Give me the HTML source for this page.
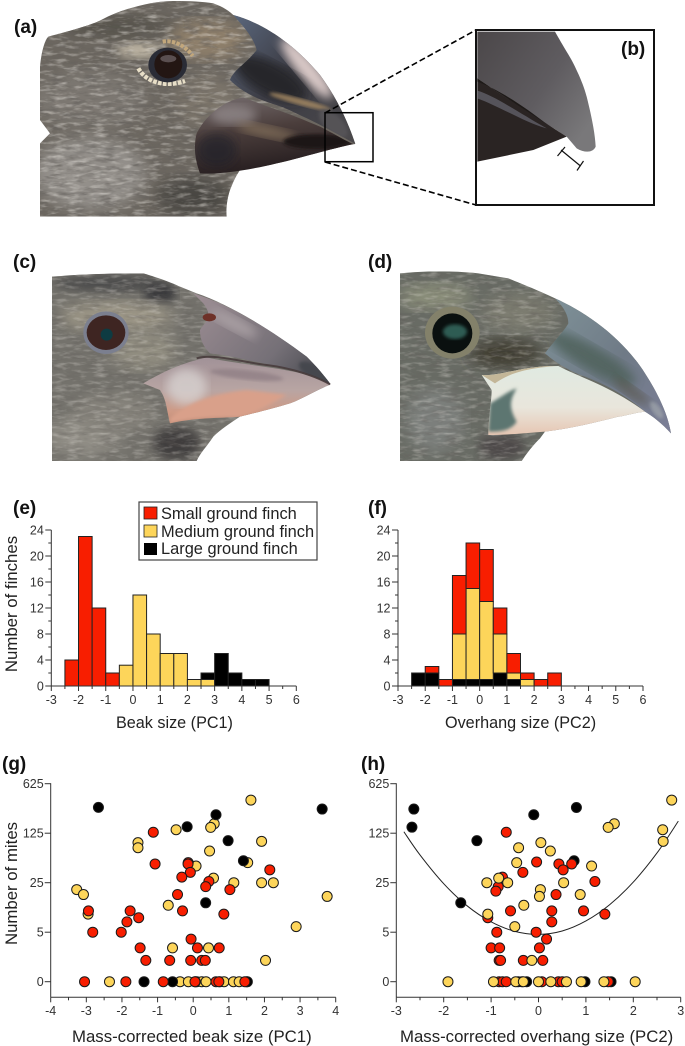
<!DOCTYPE html>
<html lang="en">
<head>
<meta charset="utf-8">
<title>Ground finch beak overhang and mite load</title>
<style>
html,body{margin:0;padding:0;background:#fff;}
body{width:685px;height:1046px;overflow:hidden;}
svg{display:block;}
text{font-family:"Liberation Sans",sans-serif;}
.panel{font-weight:bold;font-size:19px;fill:#111;}
.tick{font-size:12.5px;fill:#333;}
.title{font-size:16.8px;fill:#222;}
.title-hist{font-size:16.2px;fill:#222;}
.leg{font-size:16.4px;fill:#222;}
</style>
</head>
<body>
<svg id="figure" xmlns="http://www.w3.org/2000/svg" width="685" height="1046" viewBox="0 0 685 1046">
<defs>
  <filter id="dark-streaks" x="0" y="0" width="1" height="1">
    <feTurbulence type="fractalNoise" baseFrequency=".02 .08" numOctaves="3" seed="4"/>
    <feColorMatrix type="matrix" values="0 0 0 0 .13  0 0 0 0 .12  0 0 0 0 .11  2.4 0 0 0 -1.1"/>
  </filter>
  <filter id="light-streaks" x="0" y="0" width="1" height="1">
    <feTurbulence type="fractalNoise" baseFrequency=".025 .09" numOctaves="3" seed="11"/>
    <feColorMatrix type="matrix" values="0 0 0 0 .86  0 0 0 0 .83  0 0 0 0 .78  2.4 0 0 0 -1.15"/>
  </filter>
  <filter id="blur-large"><feGaussianBlur stdDeviation="22"/></filter>
  <filter id="blur-mid"><feGaussianBlur stdDeviation="14"/></filter>
  <filter id="blur-small"><feGaussianBlur stdDeviation="5"/></filter>

  <clipPath id="clip-a"><path d="M120 200 C125 150 135 120 145 110 C200 95 260 80 300 62 C340 40 370 30 400 22 C450 8 490 3 520 3 C570 3 610 5 640 10 C670 20 690 35 700 45 C790 70 880 130 960 225 C1015 300 1045 370 1066 432 L1040 436 C960 455 880 480 830 490 C790 500 750 505 720 510 C700 540 695 560 690 570 C680 600 678 630 680 650 L120 650 L120 430 L150 400 L120 360Z"/></clipPath>
  <clipPath id="clip-a-upper"><path d="M700 45 C790 70 880 130 960 225 C1015 300 1045 370 1066 432 C1010 400 960 372 850 322 C800 305 740 290 690 240 C700 210 740 190 770 150 C760 110 730 80 700 45Z"/></clipPath>
  <clipPath id="clip-a-lower"><path d="M590 400 C620 340 680 300 730 292 C800 320 870 340 960 380 C1000 400 1040 425 1060 432 C960 455 880 480 830 490 C750 510 650 525 600 520 C585 480 580 440 590 400Z"/></clipPath>
  <clipPath id="clip-c"><path d="M156 110 C220 105 300 100 430 100 C480 115 520 130 540 140 L590 160 C680 190 800 260 920 350 C950 380 975 410 992 433 C950 450 900 480 870 490 C820 505 760 520 720 530 C690 550 660 570 640 590 C620 620 600 640 590 663 L156 663Z"/></clipPath>
  <clipPath id="clip-c-upper"><path d="M580 160 C680 190 800 260 920 350 C950 380 975 410 992 433 C950 410 900 390 800 372 C740 360 680 345 630 340 C610 320 600 300 600 270 C620 240 640 230 610 190Z"/></clipPath>
  <clipPath id="clip-c-lower"><path d="M430 430 C480 400 540 370 620 352 C700 370 800 378 880 395 C930 405 970 425 992 433 C950 450 900 480 870 490 C820 505 760 520 720 530 C680 535 600 530 510 550 C500 510 500 480 480 450Z"/></clipPath>
  <clipPath id="clip-d"><path d="M165 100 C220 95 300 90 400 100 L490 115 C540 135 600 160 630 175 C720 215 830 290 900 400 C945 470 970 530 978 580 C950 550 925 530 900 515 C860 520 830 530 820 530 C750 548 680 565 600 575 L585 595 C560 620 545 640 530 663 L165 663Z"/></clipPath>
  <clipPath id="clip-d-upper"><path d="M630 175 C720 215 830 290 900 400 C945 470 970 530 978 580 C950 550 925 530 900 515 C860 480 800 440 720 410 C680 395 640 375 600 340 C630 300 660 270 670 250 C670 220 650 195 630 175Z"/></clipPath>
  <clipPath id="clip-d-lower"><path d="M410 405 C460 410 540 375 640 378 C700 410 800 440 900 515 C860 520 830 530 820 530 C750 548 680 565 600 575 C540 580 480 585 430 585 C430 540 440 480 440 450Z"/></clipPath>

  <linearGradient id="a-upper-beak" x1="0" y1="0" x2="1" y2="1">
    <stop offset="0" stop-color="#5d6b82"/><stop offset=".45" stop-color="#3c3c44"/><stop offset="1" stop-color="#4c4a4c"/>
  </linearGradient>
  <linearGradient id="a-lower-beak" x1="0" y1="0" x2=".3" y2="1">
    <stop offset="0" stop-color="#7c7476"/><stop offset=".5" stop-color="#4b3e3c"/><stop offset="1" stop-color="#241c1e"/>
  </linearGradient>
  <linearGradient id="c-upper-beak" x1="0" y1="0" x2="1" y2=".6">
    <stop offset="0" stop-color="#a09096"/><stop offset=".7" stop-color="#757077"/><stop offset="1" stop-color="#4f4f55"/>
  </linearGradient>
  <linearGradient id="c-lower-beak" x1="0" y1="0" x2="0" y2="1">
    <stop offset="0" stop-color="#9e8f96"/><stop offset=".5" stop-color="#b8a5a3"/><stop offset=".8" stop-color="#cf9a85"/><stop offset="1" stop-color="#b98672"/>
  </linearGradient>
  <linearGradient id="d-upper-beak" x1="0" y1=".2" x2=".9" y2="1">
    <stop offset="0" stop-color="#7d8f96"/><stop offset=".5" stop-color="#6f7a86"/><stop offset="1" stop-color="#7b7e96"/>
  </linearGradient>
  <linearGradient id="d-lower-beak" x1="0" y1="0" x2="0" y2="1">
    <stop offset="0" stop-color="#dfeae2"/><stop offset=".6" stop-color="#e9e6dc"/><stop offset="1" stop-color="#e6c4b0"/>
  </linearGradient>
  <linearGradient id="inset-beak" x1="0" y1="0" x2="1" y2=".7">
    <stop offset="0" stop-color="#4b4749"/><stop offset=".6" stop-color="#5f5c60"/><stop offset="1" stop-color="#79787a"/>
  </linearGradient>
  <clipPath id="clip-inset"><rect x="476" y="30" width="178" height="175"/></clipPath>
</defs>

<rect width="685" height="1046" fill="#fff"/>

<!-- (a) -->
<g transform="scale(.33333)">
  <g clip-path="url(#clip-a)">
    <rect x="100" y="0" width="1000" height="660" fill="#6c6760"/>
    <ellipse cx="270" cy="300" rx="170" ry="90" fill="#7b7771" filter="url(#blur-large)"/>
    <ellipse cx="270" cy="520" rx="170" ry="110" fill="#938f8a" filter="url(#blur-large)"/>
    <ellipse cx="620" cy="120" rx="120" ry="60" fill="#8e7f6b" filter="url(#blur-large)"/>
    <ellipse cx="350" cy="80" rx="170" ry="35" fill="#57524c" filter="url(#blur-large)"/>
    <ellipse cx="620" cy="300" rx="90" ry="80" fill="#7b746b" filter="url(#blur-large)"/>
    <ellipse cx="580" cy="590" rx="110" ry="60" fill="#4a4642" filter="url(#blur-large)"/>
    <ellipse cx="420" cy="150" rx="70" ry="25" fill="#bcb3a2" filter="url(#blur-mid)"/>
    <rect x="100" y="0" width="800" height="660" filter="url(#dark-streaks)" opacity=".75"/>
    <rect x="100" y="0" width="800" height="660" filter="url(#light-streaks)" opacity=".5"/>
  </g>
  <g clip-path="url(#clip-a-upper)">
    <rect x="680" y="30" width="400" height="420" fill="url(#a-upper-beak)"/>
    <ellipse cx="920" cy="205" rx="115" ry="30" transform="rotate(50 920 205)" fill="#d8c8c6" filter="url(#blur-mid)"/>
    <ellipse cx="810" cy="235" rx="120" ry="48" transform="rotate(28 810 235)" fill="#26262c" filter="url(#blur-mid)"/>
    <ellipse cx="900" cy="305" rx="95" ry="10" transform="rotate(15 900 305)" fill="#a98c65" opacity=".8" filter="url(#blur-small)"/>
    <ellipse cx="1000" cy="370" rx="55" ry="26" transform="rotate(45 1000 370)" fill="#555257" filter="url(#blur-small)"/>
  </g>
  <g clip-path="url(#clip-a-lower)">
    <rect x="570" y="280" width="500" height="250" fill="url(#a-lower-beak)"/>
    <ellipse cx="700" cy="345" rx="70" ry="30" fill="#a19a9b" opacity=".6" filter="url(#blur-mid)"/>
    <ellipse cx="800" cy="395" rx="90" ry="18" transform="rotate(12 800 395)" fill="#9a8468" opacity=".6" filter="url(#blur-mid)"/>
    <ellipse cx="650" cy="450" rx="60" ry="50" fill="#22222a" opacity=".7" filter="url(#blur-mid)"/>
    <ellipse cx="950" cy="425" rx="100" ry="22" fill="#1d1714" filter="url(#blur-small)"/>
  </g>
  <path d="M415 205 C440 250 500 262 555 243" fill="none" stroke="#e8dfc8" stroke-width="13" stroke-dasharray="11 4"/>
  <path d="M488 125 C520 118 560 140 578 168" fill="none" stroke="#c2a77c" stroke-width="12" stroke-dasharray="10 4"/>
  <ellipse cx="503" cy="195" rx="58" ry="52" fill="#2a2c36"/>
  <circle cx="505" cy="193" r="42" fill="#231613"/>
  <ellipse cx="505" cy="176" rx="24" ry="11" fill="#5a4f50"/>
</g>
<text class="panel" x="14" y="33">(a)</text>

<rect x="325" y="112.7" width="48" height="49" fill="none" stroke="#000" stroke-width="1.5"/>
<line x1="325" y1="113" x2="476" y2="30" stroke="#000" stroke-width="1.6" stroke-dasharray="6 3"/>
<line x1="325" y1="162" x2="476" y2="205" stroke="#000" stroke-width="1.6" stroke-dasharray="6 3"/>

<!-- (b) -->
<g clip-path="url(#clip-inset)">
  <g transform="translate(320 0) scale(.33333)">
    <path d="M472 95 L705 95 C730 140 750 170 760 190 C785 240 795 270 800 290 C815 350 825 400 827 440 C820 458 795 460 770 445 L740 410 C700 385 680 370 640 350 L472 235Z" fill="url(#inset-beak)"/>
    <path d="M472 235 C530 275 600 320 740 410 L640 450 L472 485Z" fill="#2a2423"/>
    <path d="M472 272 C520 285 600 340 680 385 C620 370 540 320 472 295Z" fill="#55535a"/>
    <path d="M472 235 C530 275 600 320 680 372 C620 325 540 270 472 245Z" fill="#1e1a18"/>
  </g>
</g>
<rect x="476" y="30" width="178" height="175" fill="none" stroke="#111" stroke-width="2"/>
<g stroke="#111" stroke-width="1.2" fill="none">
  <line x1="561" y1="150" x2="580.500" y2="166"/>
  <line x1="557.500" y1="156" x2="565" y2="147"/>
  <line x1="577" y1="170.500" x2="583.500" y2="161"/>
</g>
<text class="panel" x="621" y="55">(b)</text>

<!-- (c) -->
<g transform="translate(0 240) scale(.33333)">
  <g clip-path="url(#clip-c)">
    <rect x="150" y="90" width="860" height="580" fill="#74726c"/>
    <ellipse cx="330" cy="130" rx="170" ry="25" fill="#4c4c4b" filter="url(#blur-mid)"/>
    <ellipse cx="480" cy="160" rx="50" ry="30" fill="#37383a" filter="url(#blur-mid)"/>
    <ellipse cx="350" cy="230" rx="170" ry="45" fill="#9c9686" filter="url(#blur-large)"/>
    <ellipse cx="430" cy="330" rx="100" ry="60" fill="#918d80" filter="url(#blur-large)"/>
    <ellipse cx="250" cy="590" rx="110" ry="60" fill="#908d85" filter="url(#blur-large)"/>
    <ellipse cx="340" cy="520" rx="120" ry="60" fill="#86837c" filter="url(#blur-large)"/>
    <ellipse cx="530" cy="610" rx="70" ry="50" fill="#3f3e3c" filter="url(#blur-mid)"/>
    <rect x="150" y="90" width="600" height="580" filter="url(#dark-streaks)" opacity=".45"/>
    <rect x="150" y="90" width="600" height="580" filter="url(#light-streaks)" opacity=".35"/>
  </g>
  <g clip-path="url(#clip-c-upper)">
    <rect x="570" y="150" width="440" height="300" fill="url(#c-upper-beak)"/>
    <ellipse cx="950" cy="400" rx="60" ry="22" transform="rotate(30 950 400)" fill="#44464e" filter="url(#blur-small)"/>
    <ellipse cx="700" cy="250" rx="80" ry="20" transform="rotate(28 700 250)" fill="#a79ea2" filter="url(#blur-mid)"/>
  </g>
  <g clip-path="url(#clip-c-lower)">
    <rect x="420" y="340" width="580" height="220" fill="url(#c-lower-beak)"/>
    <ellipse cx="560" cy="440" rx="60" ry="55" fill="#d9d4d3" opacity=".75" filter="url(#blur-mid)"/>
    <path d="M510 535 C560 490 640 460 740 450 L860 465 C800 500 760 520 720 530 C650 530 580 530 510 550Z" fill="#d9a08a" filter="url(#blur-small)"/>
    <ellipse cx="740" cy="405" rx="110" ry="14" transform="rotate(6 740 405)" fill="#8c7b82" opacity=".7" filter="url(#blur-small)"/>
  </g>
  <path d="M590 355 C640 340 720 365 800 375 C880 385 950 410 990 433" fill="none" stroke="#45383a" stroke-width="6" opacity=".85"/>
  <ellipse cx="628" cy="232" rx="20" ry="12" fill="#6e3128"/>
  <ellipse cx="318" cy="278" rx="68" ry="64" fill="#7b7f8f"/>
  <ellipse cx="318" cy="278" rx="58" ry="52" fill="#3e2522"/>
  <circle cx="320" cy="284" r="18" fill="#0e3b42"/>
</g>
<text class="panel" x="13" y="268">(c)</text>

<!-- (d) -->
<g transform="translate(345 240) scale(.33333)">
  <g clip-path="url(#clip-d)">
    <rect x="160" y="80" width="830" height="590" fill="#686b64"/>
    <ellipse cx="270" cy="170" rx="110" ry="40" fill="#8b8f7a" filter="url(#blur-large)"/>
    <ellipse cx="520" cy="220" rx="110" ry="60" fill="#7b7c70" filter="url(#blur-large)"/>
    <ellipse cx="270" cy="540" rx="90" ry="100" fill="#7c7f7b" filter="url(#blur-large)"/>
    <ellipse cx="480" cy="340" rx="110" ry="45" fill="#3f3d33" filter="url(#blur-large)"/>
    <ellipse cx="470" cy="620" rx="70" ry="40" fill="#4e4a48" filter="url(#blur-mid)"/>
    <rect x="160" y="80" width="560" height="590" filter="url(#dark-streaks)" opacity=".5"/>
    <rect x="160" y="80" width="560" height="590" filter="url(#light-streaks)" opacity=".35"/>
  </g>
  <g clip-path="url(#clip-d-upper)">
    <rect x="590" y="170" width="400" height="420" fill="url(#d-upper-beak)"/>
    <ellipse cx="740" cy="355" rx="150" ry="36" transform="rotate(30 740 355)" fill="#4f625c" opacity=".85" filter="url(#blur-mid)"/>
    <ellipse cx="860" cy="455" rx="65" ry="16" transform="rotate(35 860 455)" fill="#55503f" opacity=".6" filter="url(#blur-mid)"/>
    <ellipse cx="935" cy="510" rx="30" ry="12" transform="rotate(55 935 510)" fill="#a7adb0" opacity=".6" filter="url(#blur-small)"/>
  </g>
  <g clip-path="url(#clip-d-lower)">
    <rect x="400" y="370" width="510" height="220" fill="url(#d-lower-beak)"/>
    <path d="M435 490 C470 470 495 450 515 445 C495 480 490 500 515 545 C500 570 470 575 430 575Z" fill="#5d7671" filter="url(#blur-small)"/>
    <path d="M410 405 L450 430 C480 410 520 385 640 378 C560 365 500 370 470 392Z" fill="#c3b698"/>
  </g>
  <ellipse cx="322" cy="278" rx="82" ry="78" fill="#83816a"/>
  <circle cx="322" cy="280" r="60" fill="#0a100f"/>
  <ellipse cx="330" cy="275" rx="36" ry="22" fill="#2d5c53" filter="url(#blur-small)"/>
</g>
<text class="panel" x="368" y="268">(d)</text>

<text class="panel" x="13" y="514">(e)</text>
<text class="panel" x="368" y="514">(f)</text>
<text class="panel" x="2" y="770">(g)</text>
<text class="panel" x="361" y="770">(h)</text>

<g id="chart-e"></g>
<g id="chart-f"></g>
<g id="chart-g"></g>
<g id="chart-h"></g>

<g>
  <rect x="139" y="502" width="178" height="58" fill="#fff" stroke="#444" stroke-width="1.2"/>
  <rect x="144" y="507" width="13" height="12" fill="#f81e00" stroke="#222" stroke-width=".8"/>
  <rect x="144" y="525" width="13" height="12" fill="#fdd55a" stroke="#222" stroke-width=".8"/>
  <rect x="144" y="543" width="13" height="12" fill="#000"/>
  <text class="leg" x="161" y="519">Small ground finch</text>
  <text class="leg" x="161" y="537">Medium ground finch</text>
  <text class="leg" x="161" y="554">Large ground finch</text>
</g>
</svg>

<script>
// ---------- histogram data ----------
const histTickLabelsX = [-3, -2, -1, 0, 1, 2, 3, 4, 5, 6];
const histTickLabelsY = [0, 4, 8, 12, 16, 20, 24];

const eBinStarts = [-2.5, -2, -1.5, -1, -0.5, 0, 0.5, 1, 1.5, 2, 2.5, 3, 3.5, 4, 4.5];
const eSmall  = [4, 23, 12, 2, 0, 0, 0, 0, 0, 0, 0, 0, 0, 0, 0];
const eMedium = [0, 0, 0, 0, 3.2, 14, 8, 5, 5, 1, 1, 0, 0, 0, 0];
const eLarge  = [0, 0, 0, 0, 0, 0, 0, 0, 0, 0, 1, 5, 2, 1, 1];

const fBinStarts = [-2.5, -2, -1.5, -1, -0.5, 0, 0.5, 1, 1.5, 2, 2.5];
const fLarge  = [2, 2, 0, 1, 1, 1, 2, 1, 0, 0, 0];
const fMedium = [0, 0, 0, 7, 14, 12, 6, 1, 1, 0, 0];
const fSmall  = [0, 1, 1, 9, 7, 8, 4, 3, 1, 1, 2];

// ---------- scatter data ----------
const mitesTickValues = [0, 5, 25, 125, 625];
const gTickLabelsX = [-4, -3, -2, -1, 0, 1, 2, 3, 4];
const hTickLabelsX = [-3, -2, -1, 0, 1, 2, 3];

const gMediumX = [-3.27,-3.08,-2.95,-1.55,-1.55,-0.48,0.59,0.49,1.62,1.92,0.46,0.08,1.53,0.57,1.14,1.92,2.25,3.76,-0.70,2.89,-0.58,0.43,2.03,-2.35,-0.37,-0.135,0.1,0.24,0.36,0.75,0.865,1.13,1.29,1.5];
const gMediumY = [20,17,9,92,78,140,170,151,367,96,70,43,48,29,25,25,25,16,12,6,3,3,2,0,0,0,0,0,0,0,0,0,0,0];
const gLargeX = [-2.66,0.64,-0.17,0.98,1.41,0.35,3.62,-1.38,-0.58,1.52,0.06];
const gLargeY = [289,228,154,98,51,13,274,0,0,0,0];
const gSmallX = [-1.12,-1.07,-0.14,-0.145,-0.08,-0.32,0.44,0.35,1.03,2.15,-0.44,-0.30,0.86,-2.94,-2.82,-2.02,-1.77,-1.86,-1.53,-0.06,-1.49,0.12,0.73,-1.33,-0.66,-0.07,0.24,0.34,-3.05,-1.89,-0.84,0.05,0.64,0.72,1.45];
const gSmallY = [129,46,48,46,35,30,26,22,20,38,17,10,9,10,5,5,10,7,8,4,3,3,3,2,2,2,2,2,0,0,0,0,0,0,0];

const hLargeX = [-2.63,-2.67,-1.30,-0.10,0.80,0.75,-1.64,0.98,1.53,-0.25,-0.43];
const hLargeY = [274,152,98,228,288,51,13,0,0,0,0];
const hSmallX = [-0.68,-0.04,0.43,0.52,0.70,-0.33,-0.76,1.19,-0.85,-0.90,0.37,-0.59,0.28,0.95,1.40,-1.07,0.28,-0.88,-0.05,0.17,-1.0,-0.82,0.02,-0.83,-0.80,-0.32,0.09,-0.83,-0.76,-0.68,-0.35,0.07,0.42,0.50,1.47];
const hSmallY = [129,49,46,38,46,35,30,26,22,19,17,10,10,10,9,8,7,5,5,4,3,3,3,2,2,2,2,0,0,0,0,0,0,0,0];
const hMediumX = [2.81,1.60,1.47,2.62,2.63,0.05,0.25,-0.42,-0.46,1.12,-0.84,-1.09,-0.65,0.53,0.04,0.02,0.88,-0.31,-1.07,-0.50,-0.14,-1.91,-0.95,-0.48,-0.32,0,0.26,0.59,0.90,1.38,2.04];
const hMediumY = [367,170,151,140,96,92,70,78,48,43,29,25,25,25,20,16,17,12,9,6,2,0,0,0,0,0,0,0,0,0,0];

const hCurveX = [-2.84,-2.5,-2,-1.5,-1,-0.5,0,0.5,1,1.5,2,2.5,2.95];
const hCurveY = [131,61.6,24.2,11.7,7,5.14,4.66,5.2,7.2,12.2,25.5,65.7,185];

// ---------- palette ----------
const RED = '#f81e00', YELLOW = '#fdd55a', BLACK = '#000000';
const NS = 'http://www.w3.org/2000/svg';

function make(parent, tag, attrs, content) {
  const node = document.createElementNS(NS, tag);
  for (const key in attrs) node.setAttribute(key, attrs[key]);
  if (content !== undefined) node.textContent = content;
  parent.appendChild(node);
  return node;
}

function linear(d0, d1, r0, r1) {
  return v => r0 + (v - d0) * (r1 - r0) / (d1 - d0);
}

function log5Axis(zeroY, step) {
  return v => zeroY - step * (v < 1 ? 0 : Math.log(v) / Math.log(5));
}

function drawXAxis(root, xs, yAxis, labels, minorStep, labelY) {
  const first = labels[0], last = labels[labels.length - 1];
  const axisLine = make(root, 'line', {x1: xs(first), x2: xs(last), y1: yAxis, y2: yAxis, stroke: '#333', 'stroke-width': 1});
  
  
  for (let v = first; v <= last + 1e-9; v += minorStep) {
    const major = Math.abs(v - Math.round(v)) < 1e-9;
    const tick = make(root, 'line', {x1: xs(v), x2: xs(v), y1: yAxis, y2: yAxis + (major ? 5 : 3), stroke: '#333', 'stroke-width': 1});
    
    
  }
  labels.forEach(v => {
    const label = make(root, 'text', {x: xs(v), y: labelY, 'text-anchor': 'middle', class: 'tick'}, String(v));
    
    
  });
}

function drawAxisTitleX(root, text, x, y, cls) {
  const title = make(root, 'text', {x: x, y: y, class: cls}, text);
  
  
}

function drawAxisTitleY(root, text, top, bottom) {
  const cy = (top + bottom) / 2;
  const title = make(root, 'text', {x: 17, y: cy, class: 'title', 'text-anchor': 'middle', transform: 'rotate(-90 17 ' + cy + ')'}, text);
  
  
}

function drawHistogram(root, cfg) {
  const xs = linear(-3, 6, cfg.left, cfg.left + 245);
  const ys = linear(0, 24, 686, 530);
  cfg.stack.forEach(layer => {
    let i = 0;
    cfg.bins.forEach(start => {
      const below = cfg.stack.slice(0, cfg.stack.indexOf(layer)).reduce((sum, other) => sum + other.values[i], 0);
      const value = layer.values[i];
      if (value > 0) {
        const bar = make(root, 'rect', {
          x: xs(start), y: ys(below + value),
          width: xs(start + cfg.binWidth) - xs(start),
          height: ys(below) - ys(below + value),
          fill: layer.color, stroke: '#222', 'stroke-width': 1
        });
        
        
      }
      i++;
    });
  });
  const yLine = make(root, 'line', {x1: cfg.left, x2: cfg.left, y1: 530, y2: 686, stroke: '#333', 'stroke-width': 1});
  
  
  for (let v = 0; v <= 24; v += 2) {
    const major = v % 4 === 0;
    const tick = make(root, 'line', {x1: cfg.left - (major ? 6 : 3), x2: cfg.left, y1: ys(v), y2: ys(v), stroke: '#333', 'stroke-width': 1});
    
    
  }
  histTickLabelsY.forEach(v => {
    const label = make(root, 'text', {x: cfg.left - 7.5, y: ys(v) + 4.5, 'text-anchor': 'end', class: 'tick'}, String(v));
    
    
  });
  drawXAxis(root, xs, 686, histTickLabelsX, 0.5, 704);
}

function drawScatter(root, cfg) {
  const xs = linear(cfg.xDomain[0], cfg.xDomain[1], cfg.left, cfg.right);
  const ys = log5Axis(981.7, 49.5);
  const yLine = make(root, 'line', {x1: cfg.left, x2: cfg.left, y1: 783.3, y2: 997.3, stroke: '#333', 'stroke-width': 1});
  
  
  mitesTickValues.forEach(v => {
    const tick = make(root, 'line', {x1: cfg.left - 6, x2: cfg.left, y1: ys(v), y2: ys(v), stroke: '#333', 'stroke-width': 1});
    
    
    const label = make(root, 'text', {x: cfg.left - 7, y: ys(v) + 4.5, 'text-anchor': 'end', class: 'tick'}, String(v));
    
    
  });
  drawXAxis(root, xs, 997.3, cfg.labels, 0.5, 1015);
  if (cfg.curveX) {
    const pts = cfg.curveX.map((x, i) => [xs(x), ys(cfg.curveY[i])]);
    let d = 'M' + pts[0][0] + ' ' + pts[0][1];
    for (let i = 0; i < pts.length - 1; i++) {
      const p0 = pts[Math.max(i - 1, 0)], p1 = pts[i], p2 = pts[i + 1], p3 = pts[Math.min(i + 2, pts.length - 1)];
      d += ' C' + (p1[0] + (p2[0] - p0[0]) / 6) + ' ' + (p1[1] + (p2[1] - p0[1]) / 6) + ' ' +
           (p2[0] - (p3[0] - p1[0]) / 6) + ' ' + (p2[1] - (p3[1] - p1[1]) / 6) + ' ' + p2[0] + ' ' + p2[1];
    }
    const curve = make(root, 'path', {d: d, fill: 'none', stroke: '#222', 'stroke-width': 1});
    
    
  }
  cfg.layers.forEach(layer => {
    layer.x.forEach((x, i) => {
      const dot = make(root, 'circle', {cx: xs(x), cy: ys(layer.y[i]), r: 5, fill: layer.color, stroke: '#1a1a1a', 'stroke-width': 1});
      
      
    });
  });
}

const chartE = document.getElementById('chart-e');
drawHistogram(chartE, {
  left: 51.3, bins: eBinStarts, binWidth: 0.5,
  stack: [
    {name: 'small-ground-finch', color: RED, values: eSmall},
    {name: 'medium-ground-finch', color: YELLOW, values: eMedium},
    {name: 'large-ground-finch', color: BLACK, values: eLarge}
  ]
});
drawAxisTitleX(chartE, 'Beak size (PC1)', 116, 728, 'title-hist');
drawAxisTitleY(chartE, 'Number of finches', 535, 673);

const chartF = document.getElementById('chart-f');
drawHistogram(chartF, {
  left: 398, bins: fBinStarts, binWidth: 0.5,
  stack: [
    {name: 'large-ground-finch', color: BLACK, values: fLarge},
    {name: 'medium-ground-finch', color: YELLOW, values: fMedium},
    {name: 'small-ground-finch', color: RED, values: fSmall}
  ]
});
drawAxisTitleX(chartF, 'Overhang size (PC2)', 445, 728, 'title-hist');

const chartG = document.getElementById('chart-g');
drawScatter(chartG, {
  left: 50.7, right: 335.7, xDomain: [-4, 4], labels: gTickLabelsX,
  layers: [
    {name: 'medium-ground-finch', color: YELLOW, x: gMediumX, y: gMediumY},
    {name: 'large-ground-finch', color: BLACK, x: gLargeX, y: gLargeY},
    {name: 'small-ground-finch', color: RED, x: gSmallX, y: gSmallY}
  ]
});
drawAxisTitleX(chartG, 'Mass-corrected beak size (PC1)', 72, 1042, 'title');
drawAxisTitleY(chartG, 'Number of mites', 821, 946);

const chartH = document.getElementById('chart-h');
drawScatter(chartH, {
  left: 396.3, right: 680.7, xDomain: [-3, 3], labels: hTickLabelsX,
  curveX: hCurveX, curveY: hCurveY,
  layers: [
    {name: 'large-ground-finch', color: BLACK, x: hLargeX, y: hLargeY},
    {name: 'small-ground-finch', color: RED, x: hSmallX, y: hSmallY},
    {name: 'medium-ground-finch', color: YELLOW, x: hMediumX, y: hMediumY}
  ]
});
drawAxisTitleX(chartH, 'Mass-corrected overhang size (PC2)', 400, 1042, 'title');
</script>
</body>
</html>
